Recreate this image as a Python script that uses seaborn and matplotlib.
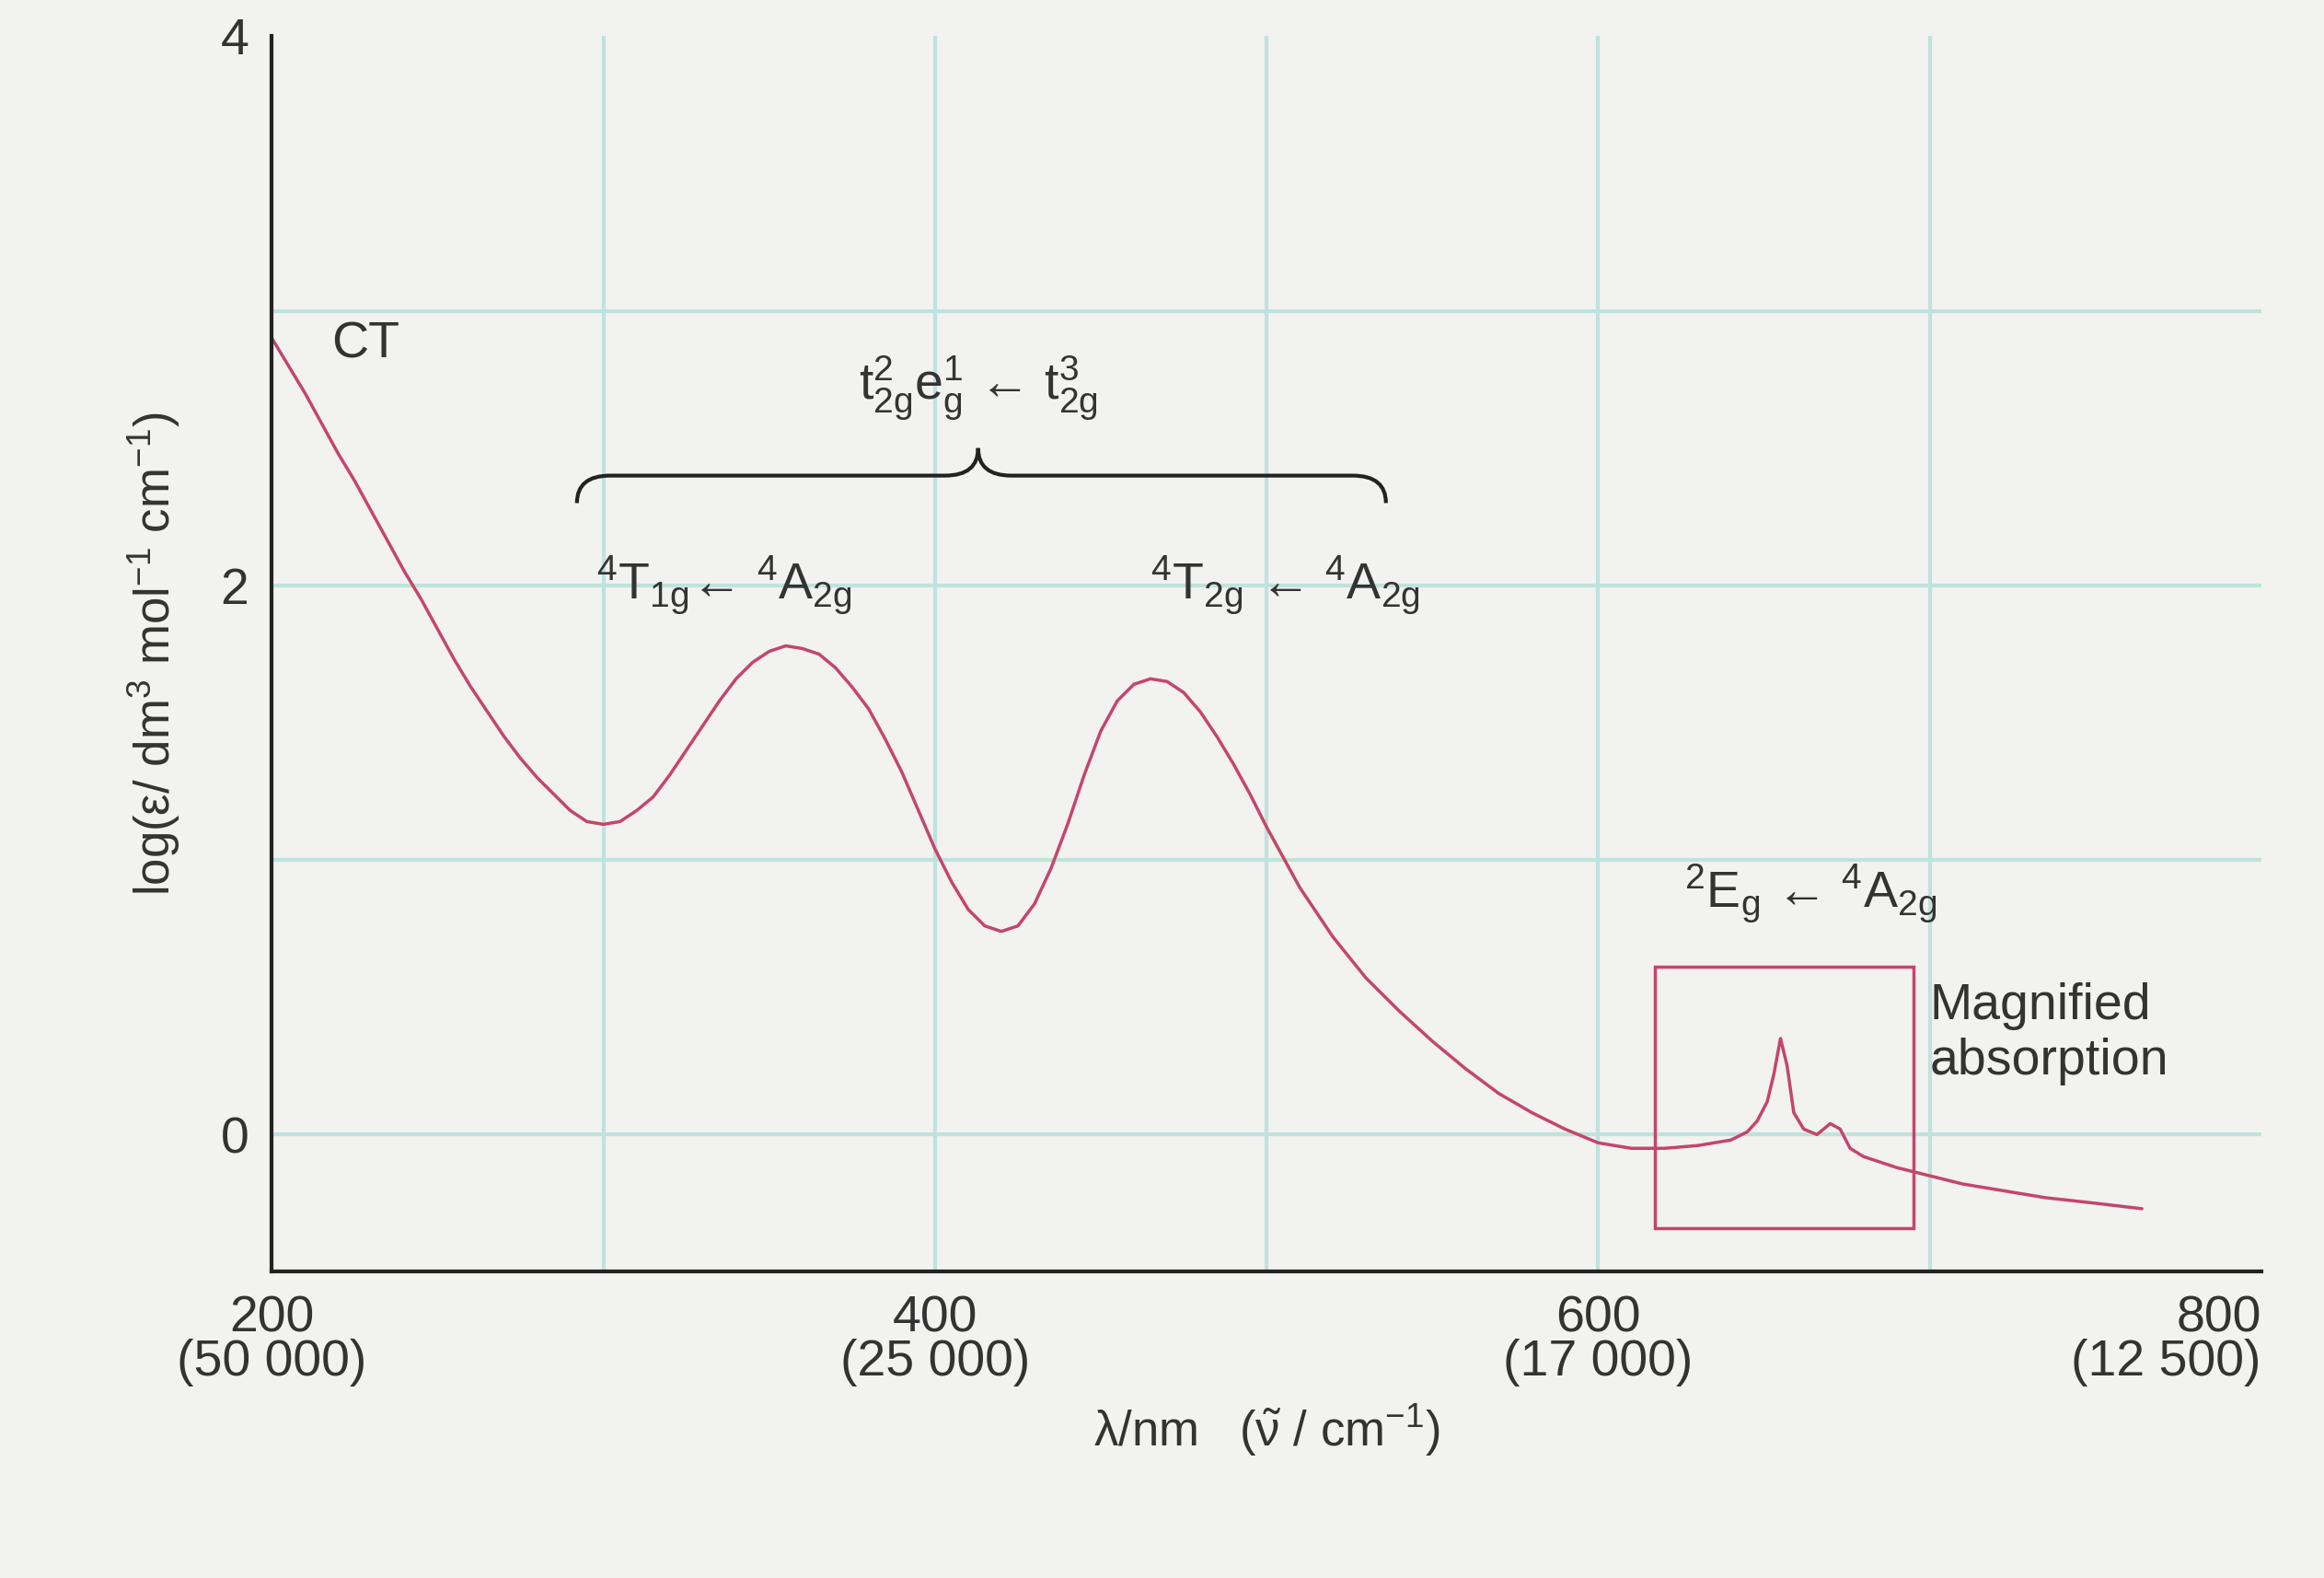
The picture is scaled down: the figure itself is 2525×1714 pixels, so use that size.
import matplotlib.pyplot as plt
import seaborn as sns
from matplotlib.path import Path
from matplotlib.patches import PathPatch, Rectangle

sns.set_theme(style="white")
plt.rcParams['font.family'] = ['Liberation Sans', 'DejaVu Sans']
plt.rcParams['mathtext.fontset'] = 'custom'
plt.rcParams['mathtext.rm'] = 'Liberation Sans'
plt.rcParams['mathtext.it'] = 'Liberation Sans'

# spectrum
wavelength = [200, 205, 210, 215, 220, 225, 230, 235, 240, 245, 250, 255, 260, 265, 270, 275, 280,
              285, 290, 295, 300, 305, 310, 315, 320, 325, 330, 335, 340, 345, 350, 355, 360,
              365, 370, 375, 380, 385, 390, 395, 400, 405, 410, 415, 420, 425, 430, 435, 440,
              445, 450, 455, 460, 465, 470, 475, 480, 485, 490, 495, 500, 510, 520, 530, 540,
              550, 560, 570, 580, 590, 600, 610, 620, 630, 640, 645, 648, 651, 653, 655, 657,
              659, 662, 666, 670, 673, 676, 680, 690, 700, 710, 720, 735, 750, 764]
log_eps = [2.90, 2.80, 2.70, 2.59, 2.48, 2.38, 2.27, 2.16, 2.05, 1.95, 1.84, 1.73, 1.63, 1.54, 1.45, 1.37, 1.30,
           1.24, 1.18, 1.14, 1.13, 1.14, 1.18, 1.23, 1.31, 1.40, 1.49, 1.58, 1.66, 1.72, 1.76, 1.78, 1.77,
           1.75, 1.70, 1.63, 1.55, 1.44, 1.32, 1.18, 1.04, 0.92, 0.82, 0.76, 0.74, 0.76, 0.84, 0.97, 1.13,
           1.31, 1.47, 1.58, 1.64, 1.66, 1.65, 1.61, 1.54, 1.45, 1.35, 1.24, 1.12, 0.90, 0.72, 0.57, 0.45,
           0.34, 0.24, 0.15, 0.08, 0.02, -0.03, -0.05, -0.05, -0.04, -0.02, 0.01, 0.05, 0.12, 0.22, 0.35, 0.25,
           0.08, 0.02, 0.00, 0.04, 0.02, -0.05, -0.08, -0.12, -0.15, -0.18, -0.20, -0.23, -0.25, -0.27]

x_ticks = [200, 400, 600, 800]
x_tick_labels = ["200\n(50 000)", "400\n(25 000)", "600\n(17 000)", "800\n(12 500)"]
y_ticks = [0, 2, 4]

RED = "#c4466a"
GRID = "#bfe3dc"
TXT = "#333333"

fig = plt.figure(figsize=(25.25, 17.14), dpi=100)
fig.patch.set_facecolor("#f2f2f0")
ax = fig.add_axes([0.117, 0.194, 0.856, 0.783])
ax.set_facecolor("#f2f2f0")

for gx in [300, 400, 500, 600, 700]:
    ax.axvline(gx, color=GRID, lw=3, zorder=0)
for gy in [0, 1, 2, 3]:
    ax.axhline(gy, color=GRID, lw=3, zorder=0)

sns.lineplot(x=wavelength, y=log_eps, ax=ax, color=RED, lw=2.5)

ax.add_patch(Rectangle((617, -0.34), 78, 0.95, fill=False, ec=RED, lw=2.5))

ax.set_xlim(200, 800)
ax.set_ylim(-0.5, 4)
ax.set_xticks(x_ticks)
ax.set_xticklabels(x_tick_labels, fontsize=40, color=TXT, linespacing=0.9)
ax.get_xticklabels()[-1].set_ha("right")
ax.get_xticklabels()[-1].set_x(800)
ax.set_yticks(y_ticks)
ax.set_yticklabels([str(v) for v in y_ticks], fontsize=40, color=TXT)
ax.tick_params(length=0, pad=18)
for s in ["top", "right"]:
    ax.spines[s].set_visible(False)
for s in ["left", "bottom"]:
    ax.spines[s].set_color("#222222")
    ax.spines[s].set_linewidth(3)

ax.set_xlabel(r"$\lambda$/nm   ($\tilde{\nu}$ / cm$^{-1}$)", fontsize=38, color=TXT, labelpad=12)
ax.set_ylabel(r"log($\varepsilon$/ dm$^3$ mol$^{-1}$ cm$^{-1}$)", fontsize=38, color=TXT, labelpad=30)

# curly brace
x0, x1, xm = 292, 536, 413
yb, yt, ye = 2.4, 2.5, 2.3
verts = [(x0, ye), (x0, yb), (x0 + 10, yb), (xm - 10, yb), (xm, yb), (xm, yt),
         (xm, yb), (xm + 10, yb), (x1 - 10, yb), (x1, yb), (x1, ye)]
codes = [Path.MOVETO, Path.CURVE3, Path.CURVE3, Path.LINETO, Path.CURVE3, Path.CURVE3,
         Path.CURVE3, Path.CURVE3, Path.LINETO, Path.CURVE3, Path.CURVE3]
ax.add_patch(PathPatch(Path(verts, codes), fill=False, ec="#222222", lw=3))

kw = dict(fontsize=40, color=TXT)
ax.text(218, 2.83, "CT", **kw)
ax.text(413, 2.72, r"t$_{2g}^{2}$e$_{g}^{1}$ ← t$_{2g}^{3}$", ha="center", va="center", **kw)
ax.text(298, 2.0, r"$^4$T$_{1g}$← $^4$A$_{2g}$", va="center", **kw)
ax.text(465, 2.0, r"$^4$T$_{2g}$ ← $^4$A$_{2g}$", va="center", **kw)
ax.text(626, 0.88, r"$^2$E$_{g}$ ← $^4$A$_{2g}$", va="center", **kw)
ax.text(700, 0.22, "Magnified\nabsorption", fontsize=40, color=TXT, linespacing=1.2)

fig.savefig("out.png", dpi=100, facecolor=fig.get_facecolor())
